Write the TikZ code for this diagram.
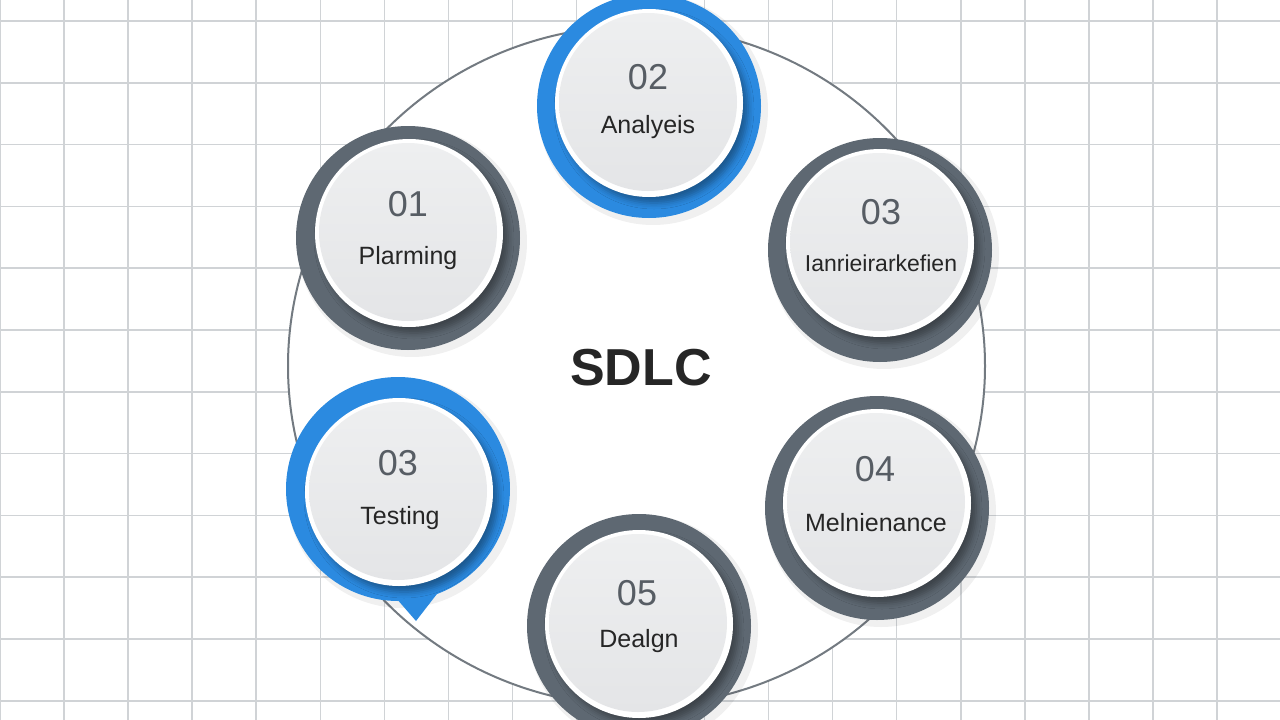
\documentclass[tikz,border=0pt]{standalone}
\usepackage{fontspec}
\setmainfont{Liberation Sans}
\usetikzlibrary{shadows.blur}
\definecolor{gridc}{HTML}{D0D3D6}
\definecolor{ringblue}{HTML}{2B8AE0}
\definecolor{ringgray}{HTML}{5E6872}
\definecolor{facetop}{HTML}{EEEFF0}
\definecolor{facebot}{HTML}{E4E5E7}
\definecolor{numc}{HTML}{575D64}
\definecolor{labc}{HTML}{262626}
\definecolor{orbitc}{HTML}{737A81}
\begin{document}
\begin{tikzpicture}[x=1pt,y=-1pt,
  ring/.style={circle,minimum size=224pt,inner sep=0pt,draw=none},
  ringshade/.style={circle,minimum size=230pt,inner sep=0pt,fill=black,fill opacity=0.06,draw=none},
  rim/.style={circle,minimum size=188pt,inner sep=0pt,fill=white,
    blur shadow={shadow xshift=5pt,shadow yshift=-6pt,shadow blur radius=6pt,shadow opacity=35}},
  face/.style={circle,minimum size=178pt,inner sep=0pt,top color=facetop,bottom color=facebot},
  num/.style={text=numc,font=\fontsize{36}{40}\selectfont,inner sep=0pt},
  lab/.style={text=labc,font=\fontsize{25}{30}\selectfont,inner sep=0pt},
  title/.style={text=labc,font=\fontsize{52}{60}\selectfont\bfseries,inner sep=0pt},
  gridline/.style={draw=gridc,line width=1.5pt},
  orbit/.style={draw=orbitc,line width=2pt,fill=white}
  ]
\useasboundingbox (0,0) rectangle (1280,720);
\fill[white] (0,0) rectangle (1280,720);
% grid
\foreach \i in {0,...,20} \draw[gridline] (64.05*\i,0) -- (64.05*\i,720);
\foreach \j in {0,...,11} \draw[gridline] (0,21+61.8*\j) -- (1280,21+61.8*\j);
% orbit
\draw[orbit] (636.5,366) ellipse [x radius=348.5pt, y radius=340pt];
\node[title] (sdlc) at (641,368) {SDLC};

% 02 Analysis
\node[ringshade] (s2) at (653,110) {};
\node[ring,fill=ringblue] (r2) at (649,106) {};
\node[rim] (w2) at (649,103) {};
\node[face] (f2) at (648,102) {};
\node[num] (n2) at (648,77) {02};
\node[lab] (l2) at (648,127) {Analyeis};

% 01 Planning
\node[ringshade] (s1) at (412,242) {};
\node[ring,fill=ringgray] (r1) at (408,238) {};
\node[rim] (w1) at (409,233) {};
\node[face] (f1) at (408,232) {};
\node[num] (n1) at (408,204) {01};
\node[lab] (l1) at (408,258) {Plarming};

% 03 Implementation
\node[ringshade] (s3) at (884,254) {};
\node[ring,fill=ringgray] (r3) at (880,250) {};
\node[rim] (w3) at (880,243) {};
\node[face] (f3) at (879,242) {};
\node[num] (n3) at (881,212) {03};
\node[lab,font=\fontsize{23}{28}\selectfont] (l3) at (881,263) {Ianrieirarkefien};

% 03 Testing (with tail)
\node[ringshade] (st) at (402,493) {};
\node[ring,fill=ringblue] (rt) at (398,489) {};
\fill[ringblue] (396,598) -- (416,621) -- (440,590) -- cycle;
\node[rim] (wt) at (399,492) {};
\node[face] (ft) at (398,491) {};
\node[num] (nt) at (398,463) {03};
\node[lab] (lt) at (400,518) {Testing};

% 04 Maintenance
\node[ringshade] (s4) at (881,512) {};
\node[ring,fill=ringgray] (r4) at (877,508) {};
\node[rim] (w4) at (877,503) {};
\node[face] (f4) at (876,502) {};
\node[num] (n4) at (875,469) {04};
\node[lab] (l4) at (876,523) {Melnienance};

% 05 Design
\node[ringshade] (s5) at (643,630) {};
\node[ring,fill=ringgray] (r5) at (639,626) {};
\node[rim] (w5) at (639,624) {};
\node[face] (f5) at (638,623) {};
\node[num] (n5) at (637,593) {05};
\node[lab] (l5) at (639,641) {Dealgn};
\end{tikzpicture}
\end{document}
